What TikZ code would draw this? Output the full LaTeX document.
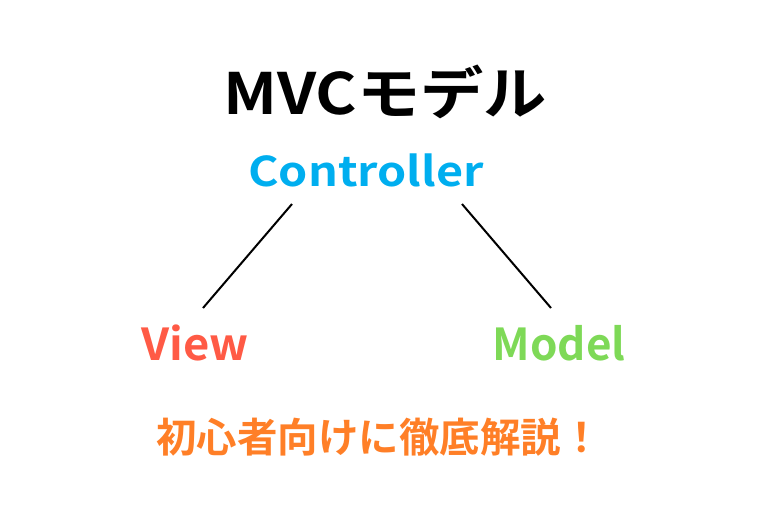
\documentclass[tikz,border=0pt]{standalone}
\usepackage{fontspec}
\newfontfamily\jpfont{Noto Sans CJK JP}[BoldFont={Noto Sans CJK JP Bold}]
\definecolor{ctrlblue}{HTML}{00AEEF}
\definecolor{viewred}{HTML}{FF5A45}
\definecolor{modelgreen}{HTML}{7ED957}
\definecolor{subor}{HTML}{FF7F27}
\tikzset{
  lbl/.style={inner sep=0pt, font=\jpfont\bfseries},
  link/.style={line width=2pt, black}
}
\begin{document}
\begin{tikzpicture}[x=1pt,y=-1pt]
\useasboundingbox (0,0) rectangle (768,509);
\node[lbl, xscale=1.11, transform shape, font=\jpfont\bfseries\fontsize{57}{62}\selectfont] (title) at (385,92) {MVCモデル};
\node[lbl, xscale=1.14, transform shape, text=ctrlblue, font=\jpfont\bfseries\fontsize{41}{46}\selectfont] (ctrl) at (366,170) {Controller};
\node[lbl, xscale=1.03, transform shape, text=viewred, font=\jpfont\bfseries\fontsize{44}{48}\selectfont] (view) at (195,343) {View};
\node[lbl, text=modelgreen, font=\jpfont\bfseries\fontsize{44}{48}\selectfont] (model) at (559,343) {Model};
\node[lbl, text=subor, font=\jpfont\bfseries\fontsize{40.5}{44}\selectfont] (sub) at (379,437) {初心者向けに徹底解説！};
\coordinate (cl) at (292,204);
\coordinate (vl) at (203,308);
\coordinate (cr) at (462,204);
\coordinate (mr) at (551,308);
\draw[link] (cl) -- (vl);
\draw[link] (cr) -- (mr);
\end{tikzpicture}
\end{document}
